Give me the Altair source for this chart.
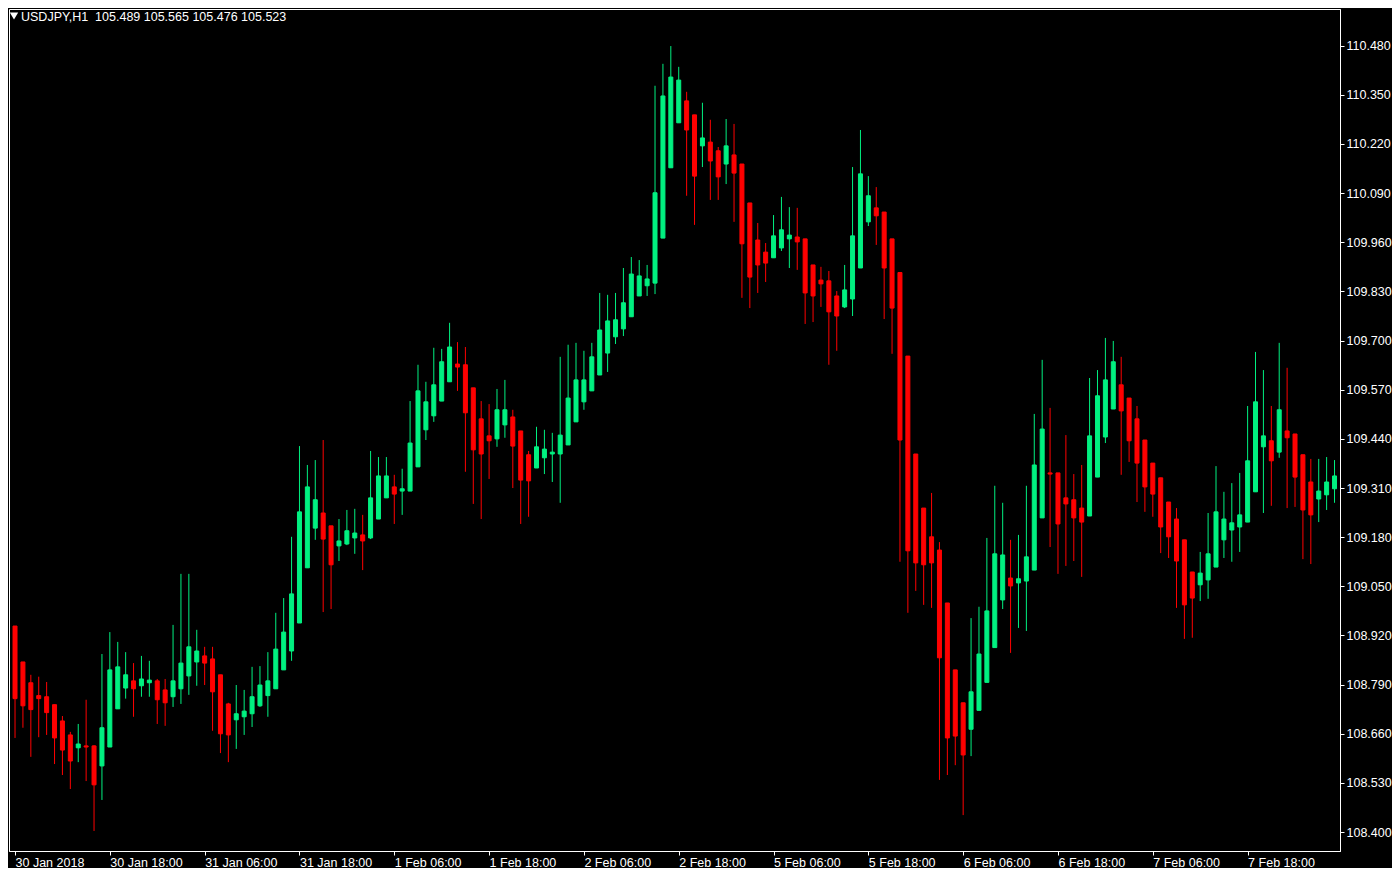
import altair as alt
import pandas as pd

# ---- data (USDJPY H1 candles) ----
open_ = [
108.945, 108.850, 108.795, 108.761, 108.758, 108.737, 108.694, 108.657, 108.623, 108.628,
108.628, 108.575, 108.625, 108.726, 108.781, 108.800, 108.787, 108.795, 108.800, 108.776,
108.758, 108.779, 108.813, 108.850, 108.866, 108.858, 108.816, 108.739, 108.697, 108.705,
108.713, 108.734, 108.761, 108.779, 108.829, 108.879, 108.953, 109.099, 109.204, 109.244,
109.210, 109.157, 109.162, 109.178, 109.186, 109.178, 109.228, 109.284, 109.313, 109.302,
109.302, 109.366, 109.464, 109.501, 109.540, 109.591, 109.638, 109.636, 109.575, 109.493,
109.448, 109.440, 109.477, 109.498, 109.461, 109.398, 109.363, 109.390, 109.400, 109.400,
109.424, 109.485, 109.538, 109.567, 109.609, 109.667, 109.710, 109.731, 109.763, 109.818,
109.845, 109.852, 109.971, 110.157, 110.276, 110.334, 110.297, 110.215, 110.225, 110.202,
110.167, 110.191, 110.167, 110.064, 109.966, 109.934, 109.919, 109.945, 109.969, 109.974,
109.969, 109.900, 109.860, 109.858, 109.818, 109.789, 109.810, 109.892, 110.014, 110.051,
110.040, 109.969, 109.880, 109.659, 109.400, 109.257, 109.181, 109.146, 109.006, 108.829,
108.742, 108.672, 108.722, 108.796, 108.888, 109.014, 109.072, 109.059, 109.064, 109.093,
109.231, 109.350, 109.350, 109.284, 109.279, 109.257, 109.236, 109.339, 109.445, 109.519,
109.583, 109.548, 109.493, 109.437, 109.376, 109.337, 109.273, 109.228, 109.173, 109.088,
109.054, 109.067, 109.101, 109.173, 109.199, 109.207, 109.220, 109.300, 109.419, 109.435,
109.405, 109.461, 109.453, 109.398, 109.326, 109.281, 109.292, 109.308,
]
high = [
108.945, 108.850, 108.816, 108.811, 108.797, 108.737, 108.707, 108.665, 108.686, 108.750,
108.630, 108.871, 108.929, 108.903, 108.876, 108.847, 108.866, 108.853, 108.805, 108.805,
108.948, 109.083, 109.083, 108.935, 108.890, 108.890, 108.816, 108.742, 108.789, 108.776,
108.837, 108.839, 108.876, 108.980, 109.019, 109.181, 109.421, 109.371, 109.384, 109.437,
109.210, 109.228, 109.252, 109.255, 109.239, 109.408, 109.392, 109.392, 109.345, 109.361,
109.540, 109.636, 109.591, 109.681, 109.678, 109.747, 109.696, 109.683, 109.575, 109.540,
109.532, 109.572, 109.596, 109.517, 109.461, 109.408, 109.472, 109.464, 109.456, 109.657,
109.689, 109.694, 109.673, 109.694, 109.826, 109.821, 109.826, 109.892, 109.921, 109.913,
109.900, 110.374, 110.432, 110.479, 110.424, 110.358, 110.297, 110.329, 110.284, 110.212,
110.286, 110.273, 110.167, 110.064, 110.011, 109.958, 110.032, 110.080, 110.053, 110.051,
109.969, 109.900, 109.895, 109.884, 109.831, 109.900, 110.159, 110.257, 110.135, 110.106,
110.040, 109.969, 109.880, 109.659, 109.400, 109.257, 109.297, 109.167, 109.006, 108.829,
108.742, 108.966, 108.996, 109.178, 109.316, 109.271, 109.173, 109.186, 109.316, 109.506,
109.649, 109.522, 109.350, 109.450, 109.347, 109.371, 109.601, 109.622, 109.707, 109.699,
109.657, 109.548, 109.527, 109.437, 109.376, 109.337, 109.273, 109.257, 109.173, 109.088,
109.141, 109.244, 109.368, 109.300, 109.323, 109.350, 109.527, 109.670, 109.622, 109.527,
109.694, 109.628, 109.453, 109.398, 109.387, 109.387, 109.392, 109.384,
]
low = [
108.649, 108.676, 108.599, 108.651, 108.657, 108.580, 108.551, 108.514, 108.585, 108.535,
108.403, 108.485, 108.625, 108.726, 108.753, 108.705, 108.758, 108.758, 108.686, 108.681,
108.731, 108.739, 108.763, 108.787, 108.789, 108.668, 108.609, 108.585, 108.620, 108.657,
108.678, 108.731, 108.705, 108.779, 108.829, 108.853, 108.953, 109.099, 109.173, 108.982,
108.990, 109.117, 109.159, 109.136, 109.093, 109.175, 109.228, 109.284, 109.215, 109.239,
109.302, 109.366, 109.437, 109.485, 109.540, 109.591, 109.567, 109.353, 109.268, 109.228,
109.334, 109.419, 109.443, 109.310, 109.215, 109.234, 109.363, 109.347, 109.326, 109.271,
109.424, 109.485, 109.517, 109.567, 109.609, 109.617, 109.691, 109.712, 109.763, 109.818,
109.818, 109.823, 109.971, 110.157, 110.276, 110.083, 110.006, 110.159, 110.072, 110.072,
110.114, 110.014, 109.813, 109.786, 109.826, 109.855, 109.919, 109.937, 109.892, 109.887,
109.744, 109.749, 109.789, 109.636, 109.673, 109.786, 109.765, 109.892, 110.003, 109.953,
109.757, 109.665, 109.115, 108.980, 109.038, 109.001, 108.993, 108.538, 108.551, 108.577,
108.445, 108.601, 108.722, 108.796, 108.888, 108.990, 108.874, 108.940, 108.932, 109.093,
109.231, 109.154, 109.083, 109.104, 109.117, 109.075, 109.236, 109.339, 109.429, 109.519,
109.345, 109.379, 109.273, 109.247, 109.234, 109.138, 109.125, 108.993, 108.911, 108.914,
109.011, 109.017, 109.101, 109.125, 109.115, 109.141, 109.220, 109.300, 109.244, 109.263,
109.390, 109.257, 109.260, 109.122, 109.109, 109.220, 109.252, 109.271,
]
close = [
108.753, 108.734, 108.724, 108.753, 108.716, 108.649, 108.617, 108.588, 108.633, 108.625,
108.525, 108.676, 108.829, 108.837, 108.816, 108.779, 108.805, 108.802, 108.750, 108.742,
108.800, 108.847, 108.890, 108.879, 108.847, 108.771, 108.660, 108.657, 108.713, 108.720,
108.758, 108.789, 108.800, 108.884, 108.929, 109.030, 109.247, 109.313, 109.279, 109.175,
109.107, 109.170, 109.197, 109.191, 109.170, 109.284, 109.342, 109.342, 109.294, 109.308,
109.429, 109.567, 109.538, 109.583, 109.644, 109.683, 109.630, 109.509, 109.411, 109.400,
109.435, 109.517, 109.517, 109.421, 109.331, 109.329, 109.419, 109.413, 109.405, 109.450,
109.548, 109.596, 109.596, 109.657, 109.728, 109.752, 109.755, 109.800, 109.876, 109.871,
109.863, 110.091, 110.347, 110.397, 110.389, 110.257, 110.135, 110.236, 110.175, 110.133,
110.215, 110.143, 109.956, 109.868, 109.900, 109.905, 109.977, 109.993, 109.979, 109.961,
109.826, 109.818, 109.850, 109.776, 109.765, 109.834, 109.977, 110.141, 110.083, 110.030,
109.892, 109.786, 109.437, 109.144, 109.112, 109.107, 109.112, 108.861, 108.649, 108.654,
108.604, 108.771, 108.871, 108.985, 109.136, 109.133, 109.051, 109.070, 109.128, 109.371,
109.466, 109.347, 109.215, 109.268, 109.231, 109.220, 109.448, 109.554, 109.596, 109.644,
109.514, 109.435, 109.376, 109.313, 109.294, 109.207, 109.181, 109.117, 109.001, 109.019,
109.085, 109.136, 109.247, 109.228, 109.218, 109.239, 109.382, 109.538, 109.448, 109.382,
109.517, 109.443, 109.339, 109.252, 109.239, 109.302, 109.326, 109.342,
]

time_labels = ["30 Jan 2018", "30 Jan 18:00", "31 Jan 06:00", "31 Jan 18:00",
               "1 Feb 06:00", "1 Feb 18:00", "2 Feb 06:00", "2 Feb 18:00",
               "5 Feb 06:00", "5 Feb 18:00", "6 Feb 06:00", "6 Feb 18:00",
               "7 Feb 06:00", "7 Feb 18:00"]
time_label_bars = [0, 12, 24, 36, 48, 60, 72, 84, 96, 108, 120, 132, 144, 156]
price_ticks = [108.40, 108.53, 108.66, 108.79, 108.92, 109.05, 109.18, 109.31, 109.44,
               109.57, 109.70, 109.83, 109.96, 110.09, 110.22, 110.35, 110.48]
header = "USDJPY,H1\u00a0 105.489 105.565 105.476 105.523"

UP = "#00F080"
DOWN = "#FF0000"
FONT = "Liberation Sans"

df = pd.DataFrame({"i": list(range(len(open_))), "open": open_, "high": high,
                   "low": low, "close": close})

label_map = dict(zip(time_label_bars, time_labels))
label_expr = "{" + ",".join(f"'{k}':'{v}'" for k, v in label_map.items()) + "}[toString(datum.value)]"

xscale = alt.Scale(domain=[-0.13, 167.06], nice=False, zero=False)
yscale = alt.Scale(domain=[108.350, 110.577], nice=False, zero=False)
cscale = alt.Scale(domain=["up", "down"], range=[UP, DOWN])

xaxis = alt.Axis(values=time_label_bars, labelExpr=label_expr, title=None,
                 labelAlign="left", labelOverlap=False, labelFlush=False,
                 tickSize=4, labelPadding=1, orient="bottom")
yaxis = alt.Axis(values=price_ticks, format=".3f", title=None, orient="right",
                 labelOverlap=False, labelFlush=False, tickSize=4, labelPadding=2,
                 labelBaseline="middle")

base = alt.Chart(df).transform_calculate(
    dir="datum.close >= datum.open ? 'up' : 'down'"
).encode(
    x=alt.X("i:Q", scale=xscale, axis=xaxis),
    color=alt.Color("dir:N", scale=cscale, legend=None),
)

wicks = base.mark_rule(strokeWidth=1).encode(
    y=alt.Y("low:Q", scale=yscale, axis=yaxis),
    y2="high:Q",
)
bodies = base.mark_bar(size=4, strokeWidth=1).encode(
    y=alt.Y("open:Q", scale=yscale, axis=yaxis),
    y2="close:Q",
    stroke=alt.Stroke("dir:N", scale=cscale, legend=None),
)

hdr = alt.Chart(pd.DataFrame({"t": [header]})).mark_text(
    align="left", baseline="middle", color="#FFFFFF", font=FONT, fontSize=12.5
).encode(x=alt.value(12), y=alt.value(8), text="t:N")

tri = alt.Chart(pd.DataFrame({"t": [0]})).mark_point(
    shape="triangle-down", filled=True, color="#FFFFFF", size=70, opacity=1
).encode(x=alt.value(5), y=alt.value(7))

chart = alt.layer(wicks, bodies, hdr, tri).properties(
    width=1331, height=842,
    background="#000000",
    padding={"left": 1, "top": 1, "right": 52, "bottom": 17},
    autosize=alt.AutoSizeParams(type="none"),
).configure_view(
    fill="#000000", stroke="#FFFFFF", strokeWidth=1
).configure_axis(
    domainColor="#FFFFFF", tickColor="#FFFFFF", labelColor="#FFFFFF",
    grid=False, labelFont=FONT, labelFontSize=12.5
)

chart.save("out.html", embed_options={"renderer": "svg", "actions": False})
